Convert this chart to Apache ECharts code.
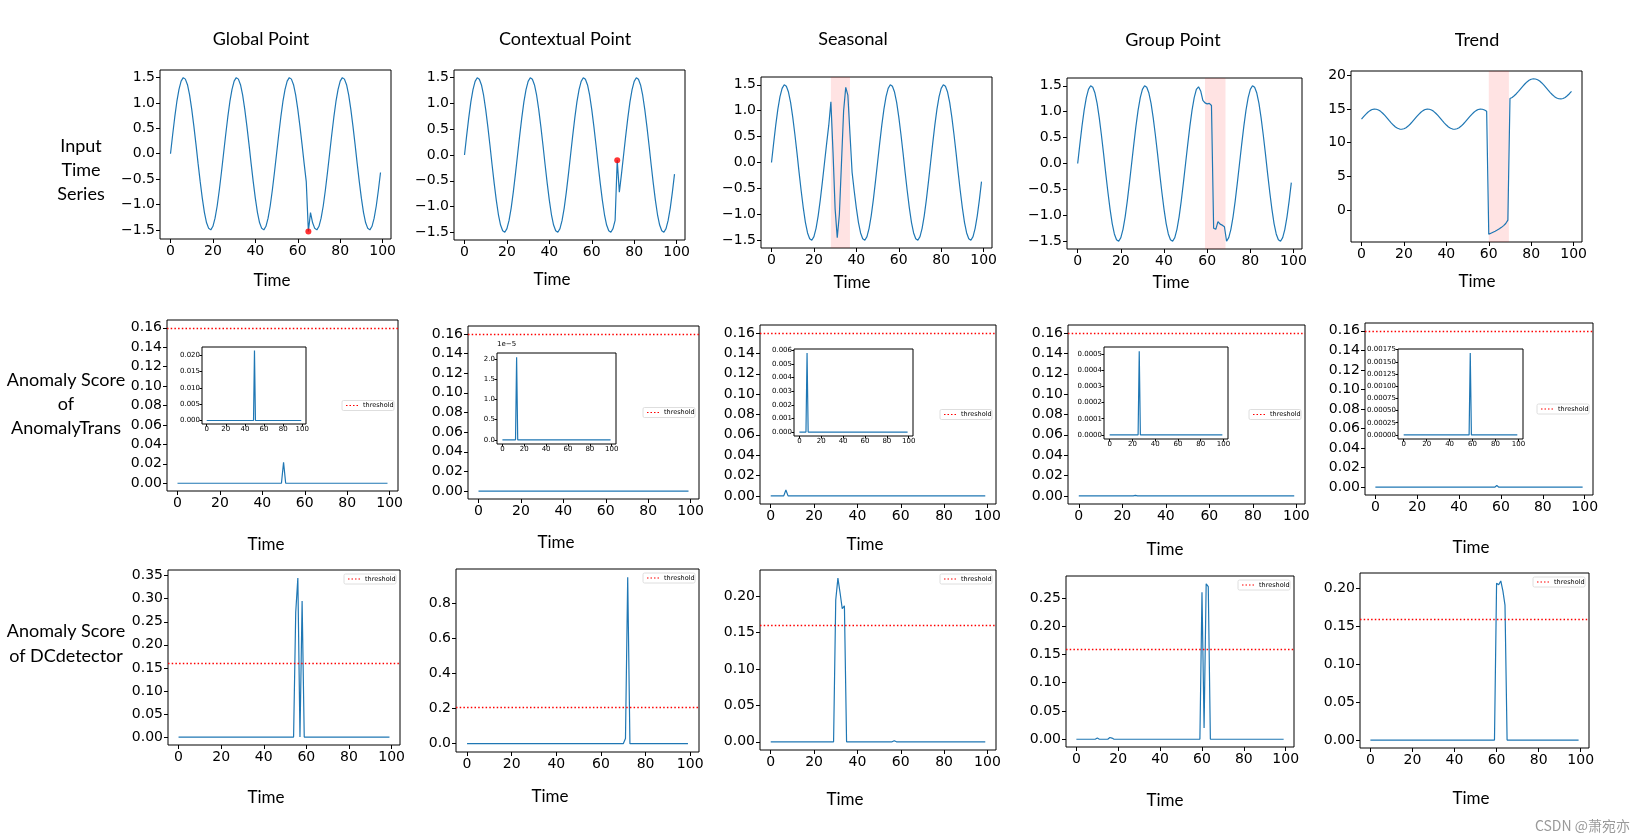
<!DOCTYPE html>
<html><head><meta charset="utf-8">
<script src="https://cdn.jsdelivr.net/npm/echarts@6/dist/echarts.min.js"></script>
<style>html,body{margin:0;padding:0;background:#fff}#c{width:1636px;height:838px}</style>
</head><body><div id="c"></div><script>
// ---------------- data ----------------
const columnTitles = ['Global Point','Contextual Point','Seasonal','Group Point','Trend'];
const rowLabels = [['Input','Time','Series'],['Anomaly Score','of','AnomalyTrans'],['Anomaly Score','of DCdetector']];
const xTicks = [0,20,40,60,80,100];
const sineTicks = [-1.5,-1.0,-0.5,0.0,0.5,1.0,1.5];
const trendTicks = [0,5,10,15,20];
const transTicks = [0,0.02,0.04,0.06,0.08,0.10,0.12,0.14,0.16];
const dcTicks1 = [0,0.05,0.10,0.15,0.20,0.25,0.30,0.35];
const dcTicks2 = [0,0.2,0.4,0.6,0.8];
const dcTicks3 = [0,0.05,0.10,0.15,0.20];
const dcTicks4 = [0,0.05,0.10,0.15,0.20,0.25];
const dcTicks5 = [0,0.05,0.10,0.15,0.20];
const insetTicks1 = [0,0.005,0.010,0.015,0.020];
const insetTicks2 = [0,0.5e-5,1.0e-5,1.5e-5,2.0e-5];
const insetTicks3 = [0,0.001,0.002,0.003,0.004,0.005,0.006];
const insetTicks4 = [0,0.0001,0.0002,0.0003,0.0004,0.0005];
const insetTicks5 = [0,0.00025,0.00050,0.00075,0.00100,0.00125,0.00150,0.00175];

const globalPoint = [
0,0.37,0.72,1.03,1.27,1.43,1.50,1.47,1.36,1.16,0.88,0.55,0.19,-0.19,-0.55,-0.88,-1.16,-1.36,-1.47,-1.50,-1.43,-1.27,-1.03,-0.72,-0.37,
0,0.37,0.72,1.03,1.27,1.43,1.50,1.47,1.36,1.16,0.88,0.55,0.19,-0.19,-0.55,-0.88,-1.16,-1.36,-1.47,-1.50,-1.43,-1.27,-1.03,-0.72,-0.37,
0,0.37,0.72,1.03,1.27,1.43,1.50,1.47,1.36,1.16,0.88,0.55,0.19,-0.19,-0.55,-1.53,-1.16,-1.36,-1.47,-1.50,-1.43,-1.27,-1.03,-0.72,-0.37,
0,0.37,0.72,1.03,1.27,1.43,1.50,1.47,1.36,1.16,0.88,0.55,0.19,-0.19,-0.55,-0.88,-1.16,-1.36,-1.47,-1.50,-1.43,-1.27,-1.03,-0.72,-0.37];
const contextualPoint = [
0,0.37,0.72,1.03,1.27,1.43,1.50,1.47,1.36,1.16,0.88,0.55,0.19,-0.19,-0.55,-0.88,-1.16,-1.36,-1.47,-1.50,-1.43,-1.27,-1.03,-0.72,-0.37,
0,0.37,0.72,1.03,1.27,1.43,1.50,1.47,1.36,1.16,0.88,0.55,0.19,-0.19,-0.55,-0.88,-1.16,-1.36,-1.47,-1.50,-1.43,-1.27,-1.03,-0.72,-0.37,
0,0.37,0.72,1.03,1.27,1.43,1.50,1.47,1.36,1.16,0.88,0.55,0.19,-0.19,-0.55,-0.88,-1.16,-1.36,-1.47,-1.50,-1.43,-1.27,-0.10,-0.72,-0.37,
0,0.37,0.72,1.03,1.27,1.43,1.50,1.47,1.36,1.16,0.88,0.55,0.19,-0.19,-0.55,-0.88,-1.16,-1.36,-1.47,-1.50,-1.43,-1.27,-1.03,-0.72,-0.37];
const seasonal = [
0,0.37,0.72,1.03,1.27,1.43,1.50,1.47,1.36,1.16,0.88,0.55,0.19,-0.19,-0.55,-0.88,-1.16,-1.36,-1.47,-1.50,-1.43,-1.27,-1.03,-0.72,-0.37,
0,0.37,0.72,1.17,0.20,-0.90,-1.45,-1.00,0.00,1.00,1.45,1.30,0.55,-0.19,-0.55,-0.88,-1.16,-1.36,-1.47,-1.50,-1.43,-1.27,-1.03,-0.72,-0.37,
0,0.37,0.72,1.03,1.27,1.43,1.50,1.47,1.36,1.16,0.88,0.55,0.19,-0.19,-0.55,-0.88,-1.16,-1.36,-1.47,-1.50,-1.43,-1.27,-1.03,-0.72,-0.37,
0,0.37,0.72,1.03,1.27,1.43,1.50,1.47,1.36,1.16,0.88,0.55,0.19,-0.19,-0.55,-0.88,-1.16,-1.36,-1.47,-1.50,-1.43,-1.27,-1.03,-0.72,-0.37];
const groupPoint = [
0,0.37,0.72,1.03,1.27,1.43,1.50,1.47,1.36,1.16,0.88,0.55,0.19,-0.19,-0.55,-0.88,-1.16,-1.36,-1.47,-1.50,-1.43,-1.27,-1.03,-0.72,-0.37,
0,0.37,0.72,1.03,1.27,1.43,1.50,1.47,1.36,1.16,0.88,0.55,0.19,-0.19,-0.55,-0.88,-1.16,-1.36,-1.47,-1.50,-1.43,-1.27,-1.03,-0.72,-0.37,
0,0.37,0.72,1.03,1.27,1.43,1.48,1.40,1.22,1.17,1.15,1.16,1.12,-1.25,-1.27,-1.12,-1.17,-1.19,-1.22,-1.50,-1.43,-1.27,-1.03,-0.72,-0.37,
0,0.37,0.72,1.03,1.27,1.43,1.50,1.47,1.36,1.16,0.88,0.55,0.19,-0.19,-0.55,-0.88,-1.16,-1.36,-1.47,-1.50,-1.43,-1.27,-1.03,-0.72,-0.37];
const trend = [
13.50,13.87,14.22,14.53,14.77,14.93,15.00,14.97,14.86,14.66,14.38,14.05,13.69,13.31,12.95,12.62,12.34,12.14,12.03,12.00,12.07,12.23,12.47,12.78,13.13,
13.50,13.87,14.22,14.53,14.77,14.93,15.00,14.97,14.86,14.66,14.38,14.05,13.69,13.31,12.95,12.62,12.34,12.14,12.03,12.00,12.07,12.23,12.47,12.78,13.13,
13.50,13.87,14.22,14.53,14.77,14.93,15.00,14.97,14.86,14.66,-3.60,-3.45,-3.30,-3.15,-2.98,-2.80,-2.58,-2.32,-2.00,-1.50,16.57,16.73,16.97,17.28,17.63,
18.00,18.37,18.72,19.03,19.27,19.43,19.50,19.47,19.36,19.16,18.88,18.55,18.19,17.81,17.45,17.12,16.84,16.64,16.53,16.50,16.57,16.73,16.97,17.28,17.63];
const globalDot = [65,-1.53];
const contextDot = [72,-0.10];
const seasonalWindow = [28,37];
const groupWindow = [59,68.5];
const trendWindow = [60,69.5];

// AnomalyTrans scores, [time, score] points (zero elsewhere)
const transScore1 = [[0,0],[49,0],[50,0.0215],[51,0],[99,0]];
const transScore2 = [[0,0],[12,0],[13,2.05e-5],[14,0],[99,0]];
const transScore3 = [[0,0],[6,0],[7,0.0058],[8,0],[99,0]];
const transScore4 = [[0,0],[25,0],[26,0.00052],[27,0],[99,0]];
const transScore5 = [[0,0],[57,0],[58,0.00168],[59,0],[99,0]];
const transThreshold = 0.16;
// DCdetector scores
const dcScore1 = [[0,0],[54,0],[55,0.27],[56,0.345],[57,0],[58,0.295],[59,0],[99,0]];
const dcScore2 = [[0,0],[70,0],[71,0.03],[72,0.95],[73,0],[99,0]];
const dcScore3 = [[0,0],[29,0],[30,0.195],[31,0.225],[32,0.205],[33,0.183],[34,0.187],[35,0],[56,0],[57,0.0015],[58,0],[99,0]];
const dcScore4 = [[0,0],[9,0],[10,0.002],[11,0],[15,0],[16,0.003],[17,0.002],[18,0],[59,0],[60,0.26],[61,0.02],[62,0.275],[63,0.27],[64,0],[99,0]];
const dcScore5 = [[0,0],[59,0],[60,0.207],[61,0.205],[62,0.21],[63,0.197],[64,0.178],[65,0],[99,0]];
const dcThresholds = [0.16,0.21,0.16,0.16,0.16];

// ---------------- build ----------------
const BLUE = '#1f77b4';
const grids=[], xAxes=[], yAxes=[], series=[], graphics=[];
function fmt(v, d, s){ let str=(v*s).toFixed(d); if(v<0) str='\u2212'+str.slice(1); return str; }
function panel(p){
  const i = grids.length;
  const ins = !!p.inset;
  const fs = ins?7:14, tl = ins?2.5:4, mg = ins?2:5, z = ins?6:0;
  grids.push({left:p.l, top:p.t, width:p.w, height:p.h, show:true, borderColor:'#000', borderWidth:1,
    backgroundColor: ins?'#fff':'transparent', containLabel:false, outerBoundsMode:'none', z:z});
  xAxes.push({gridIndex:i, type:'value', min:-4.95, max:103.95, z:z,
    axisLine:{show:false,onZero:false}, splitLine:{show:false},
    axisTick:{show:true, customValues:xTicks, length:tl, lineStyle:{color:'#000',width:1}},
    axisLabel:{customValues:xTicks, color:'#000', fontSize:fs, fontFamily:'DejaVu Sans', margin:mg}});
  yAxes.push({gridIndex:i, type:'value', min:p.ymin, max:p.ymax, z:z,
    axisLine:{show:false,onZero:false}, splitLine:{show:false},
    axisTick:{show:true, customValues:p.yt, length:tl, lineStyle:{color:'#000',width:1}},
    axisLabel:{customValues:p.yt, color:'#000', fontSize:fs, fontFamily:'DejaVu Sans', margin:mg,
      formatter:(v)=>fmt(v,p.dec,p.scale||1)}});
  return i;
}
function lineSeries(i, pts, extra){
  const s = Object.assign({type:'line', xAxisIndex:i, yAxisIndex:i, data:pts, showSymbol:false, symbol:'none',
    lineStyle:{color:BLUE, width:1.2}, itemStyle:{color:BLUE}, animation:false, silent:true, z:3}, extra||{});
  series.push(s); return s;
}
function threshold(val){
  return {symbol:['none','none'], silent:true, label:{show:false}, animation:false,
    lineStyle:{color:'#ff0000', type:[1.5,2.2], width:1.3}, data:[{yAxis:val}]};
}
function shade(win){
  return {silent:true, itemStyle:{color:'rgba(255,0,0,0.11)'}, data:[[{xAxis:win[0]},{xAxis:win[1]}]]};
}
const idx = a => a.map((v,k)=>[k,v]);
function text(x,y,t,size,opt){
  graphics.push(Object.assign({type:'text', x:x, y:y, z:20, style:Object.assign({text:t, fontSize:size,
    fontFamily:'Lato, "Noto Sans", sans-serif', fill:'#000', align:'center', verticalAlign:'middle'}, (opt||{}))}));
}
function legendBox(g, where){
  const w=52,h=10;
  const x = g.l + g.w - 4 - w;
  const y = where==='top' ? g.t + 4 : g.t + g.h/2 - h/2;
  graphics.push({type:'group', x:x, y:y, z:30, children:[
    {type:'rect', shape:{x:0,y:0,width:w,height:h,r:1.5}, style:{fill:'#fff', stroke:'#d6d6d6', lineWidth:0.8}},
    {type:'line', shape:{x1:4,y1:5,x2:17,y2:5}, style:{stroke:'#ff0000', lineWidth:1.2, lineDash:[1.5,2]}},
    {type:'text', x:21, y:5.3, style:{text:'threshold', fontSize:6.5, fontFamily:'DejaVu Sans', fill:'#000', verticalAlign:'middle', align:'left'}}
  ]});
}

// Row 1: input series
const r1 = [
  {l:160,t:70,w:231,h:169,ymin:-1.68,ymax:1.65,yt:sineTicks,dec:1},
  {l:454,t:70,w:231,h:170,ymin:-1.65,ymax:1.65,yt:sineTicks,dec:1},
  {l:761,t:77,w:231,h:171,ymin:-1.65,ymax:1.65,yt:sineTicks,dec:1},
  {l:1067,t:78,w:235,h:171,ymin:-1.65,ymax:1.65,yt:sineTicks,dec:1},
  {l:1351,t:71,w:231,h:171,ymin:-4.755,ymax:20.655,yt:trendTicks,dec:0}
];
const inputs = [globalPoint, contextualPoint, seasonal, groupPoint, trend];
const windows = [null, null, seasonalWindow, groupWindow, trendWindow];
const dots = [globalDot, contextDot, null, null, null];
r1.forEach((p,c)=>{
  const i = panel(p);
  const ex = {};
  if(windows[c]) ex.markArea = shade(windows[c]);
  lineSeries(i, idx(inputs[c]), ex);
  if(dots[c]) series.push({type:'scatter', xAxisIndex:i, yAxisIndex:i, data:[dots[c]], symbolSize:6,
    itemStyle:{color:'#ff0000'}, z:5, silent:true, animation:false});
});

// Row 2: AnomalyTrans
const r2 = [
  {l:167,t:320,w:231,h:171},
  {l:468,t:326,w:231,h:173},
  {l:760,t:325,w:236,h:179},
  {l:1068,t:325,w:237,h:179},
  {l:1365,t:323,w:228,h:172}
];
const transScores = [transScore1,transScore2,transScore3,transScore4,transScore5];
const insets = [
  {l:202,t:347,w:104,h:77, ymin:-0.001075,ymax:0.022575,yt:insetTicks1,dec:3},
  {l:497,t:353,w:119,h:91, ymin:-0.1025e-5,ymax:2.1525e-5,yt:insetTicks2,dec:1,scale:1e5},
  {l:794,t:349,w:119,h:87, ymin:-0.00029,ymax:0.00609,yt:insetTicks3,dec:3},
  {l:1104,t:347,w:124,h:92, ymin:-0.000026,ymax:0.000546,yt:insetTicks4,dec:4},
  {l:1398,t:349,w:125,h:90, ymin:-0.000084,ymax:0.001764,yt:insetTicks5,dec:5}
];
r2.forEach((g,c)=>{
  const i = panel(Object.assign({ymin:-0.008,ymax:0.168,yt:transTicks,dec:2}, g));
  lineSeries(i, transScores[c], {markLine: threshold(transThreshold)});
  legendBox(g,'mid');
});
insets.forEach((p,c)=>{
  const i = panel(Object.assign({inset:true}, p));
  lineSeries(i, transScores[c], {z:8});
});
text(497, 348, '1e\u22125', 7, {align:'left', verticalAlign:'bottom', fontFamily:'DejaVu Sans'});

// Row 3: DCdetector
const r3 = [
  {l:168,t:570,w:232,h:175,ymin:-0.01725,ymax:0.36225,yt:dcTicks1,dec:2},
  {l:456,t:569,w:243,h:183,ymin:-0.0475,ymax:0.9975,yt:dcTicks2,dec:1},
  {l:760,t:570,w:236,h:180,ymin:-0.01125,ymax:0.23625,yt:dcTicks3,dec:2},
  {l:1066,t:576,w:228,h:171,ymin:-0.01375,ymax:0.28875,yt:dcTicks4,dec:2},
  {l:1360,t:573,w:229,h:175,ymin:-0.0105,ymax:0.2205,yt:dcTicks5,dec:2}
];
const dcScores = [dcScore1,dcScore2,dcScore3,dcScore4,dcScore5];
r3.forEach((p,c)=>{
  const i = panel(p);
  lineSeries(i, dcScores[c], {markLine: threshold(dcThresholds[c])});
  legendBox(p,'top');
});

// Texts
const titlePos = [[261,39],[565,39],[853,39],[1173,40],[1477,40]];
columnTitles.forEach((t,k)=>text(titlePos[k][0], titlePos[k][1], t, 18));
const timePos = [
  [[272,281],[552,280],[852,283],[1171,283],[1477,282]],
  [[266,545],[556,543],[865,545],[1165,550],[1471,548]],
  [[266,798],[550,797],[845,800],[1165,801],[1471,799]]
];
timePos.forEach(row=>row.forEach(p=>text(p[0],p[1],'Time',17)));
const rowLabelPos = [[81,[146,170,194]],[66,[380,404,428]],[66,[631,656]]];
rowLabels.forEach((lines,r)=>lines.forEach((t,k)=>text(rowLabelPos[r][0], rowLabelPos[r][1][k], t, 18)));
text(1630, 826, 'CSDN @萧宛亦', 14, {align:'right', fill:'#9a9a9a', fontFamily:'"Noto Sans CJK SC", sans-serif'});

const chart = echarts.init(document.getElementById('c'), null, {renderer:'canvas', width:1636, height:838});
chart.setOption({animation:false, backgroundColor:'#fff', grid:grids, xAxis:xAxes, yAxis:yAxes, series:series, graphic:graphics});
</script></body></html>
